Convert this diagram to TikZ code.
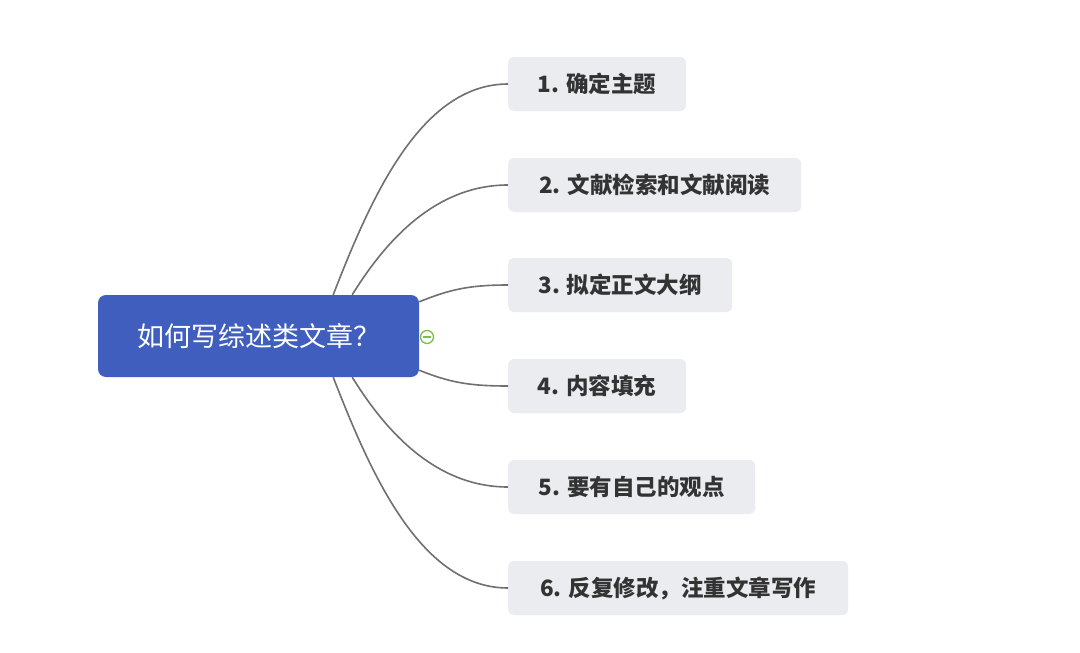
\documentclass[tikz,border=0pt]{standalone}
\usepackage{fontspec}
\newfontfamily\cjk{Noto Sans CJK SC}
\usetikzlibrary{calc}
\definecolor{rootblue}{HTML}{3F5EBD}
\definecolor{boxgray}{HTML}{EBECF0}
\definecolor{linegray}{HTML}{707070}
\definecolor{txtdark}{HTML}{333333}
\definecolor{togglegreen}{HTML}{7DBE4A}
\tikzset{
  rootbox/.style={fill=rootblue, rounded corners=8pt, minimum width=321pt, minimum height=82pt,
    inner sep=0pt, text=white, font=\cjk\fontsize{27}{32}\selectfont},
  childbox/.style={fill=boxgray, rounded corners=6pt, minimum height=54pt, inner sep=0pt,
    anchor=west, text=txtdark, font=\cjk\bfseries\fontsize{22.5}{27}\selectfont},
  conn/.style={draw=linegray, line width=1.6pt},
}
\begin{document}
\begin{tikzpicture}[x=1pt,y=-1pt]
\useasboundingbox (0,0) rectangle (1080,653);
\fill[white] (0,0) rectangle (1080,653);
\node[rootbox] (root) at (258.5,336) {如何写综述类文章？};
\node[childbox, minimum width=178pt] (c1) at (508,84) {1. 确定主题};
\node[childbox, minimum width=293pt] (c2) at (508,185) {2. 文献检索和文献阅读};
\node[childbox, minimum width=224pt] (c3) at (508,285) {3. 拟定正文大纲};
\node[childbox, minimum width=178pt] (c4) at (508,386) {4. 内容填充};
\node[childbox, minimum width=247pt] (c5) at (508,487) {5. 要有自己的观点};
\node[childbox, minimum width=340pt] (c6) at (508,588) {6. 反复修改，注重文章写作};
\coordinate (s1) at ($(root.north east)+(-86,0)$);
\coordinate (s2) at ($(root.north east)+(-67,0)$);
\coordinate (s3) at ($(root.north east)+(0,7)$);
\coordinate (s4) at ($(root.south east)+(0,-7)$);
\coordinate (s5) at ($(root.south east)+(-67,0)$);
\coordinate (s6) at ($(root.south east)+(-86,0)$);
\draw[conn] (s1) .. controls +(37,-95) and +(-88,0) .. (c1.west);
\draw[conn] (s2) .. controls +(28,-45) and +(-78,0) .. (c2.west);
\draw[conn] (s3) .. controls +(30,-12) and +(-40,0) .. (c3.west);
\draw[conn] (s4) .. controls +(30,12) and +(-40,0) .. (c4.west);
\draw[conn] (s5) .. controls +(28,45) and +(-78,0) .. (c5.west);
\draw[conn] (s6) .. controls +(37,95) and +(-88,0) .. (c6.west);
\node[circle, draw=togglegreen, fill=white, line width=1.3pt, minimum size=13pt, inner sep=0pt] (tog) at (427,337) {};
\draw[togglegreen, line width=1.3pt] ($(tog.center)+(-4,0)$) -- ($(tog.center)+(4,0)$);
\end{tikzpicture}
\end{document}
